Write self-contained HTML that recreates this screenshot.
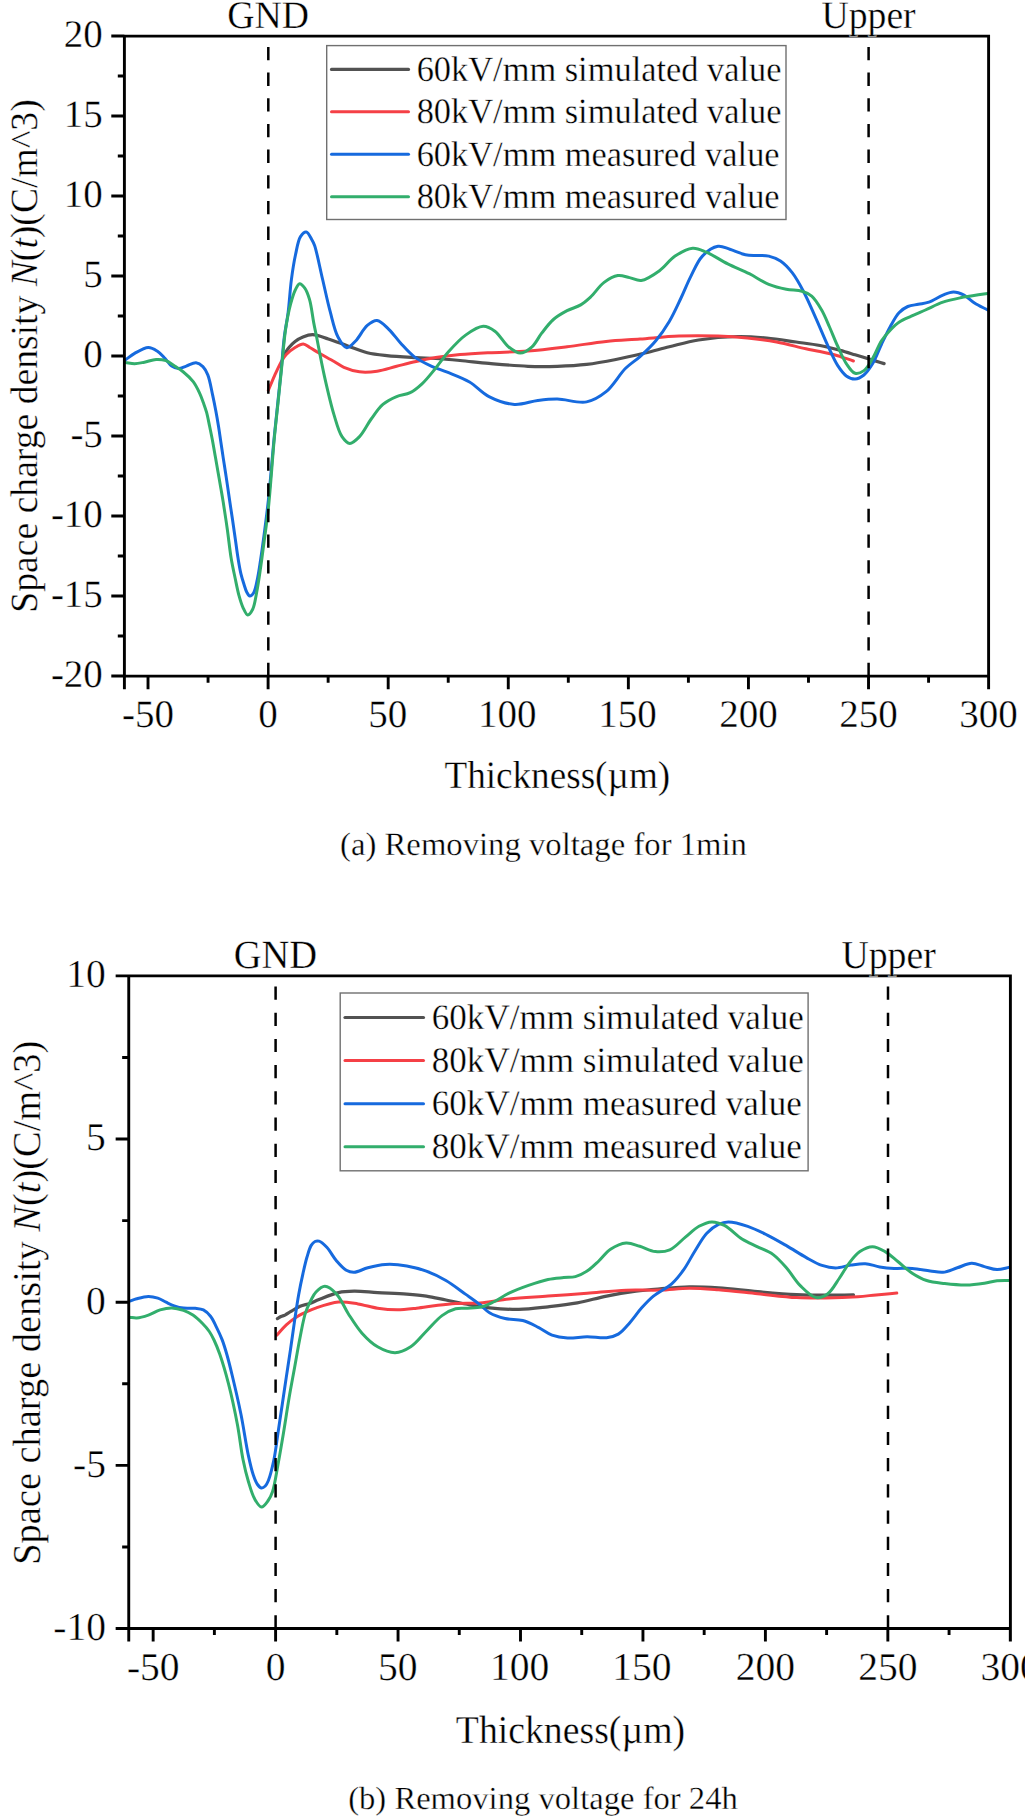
<!DOCTYPE html><html><head><meta charset="utf-8"><style>html,body{margin:0;padding:0;background:#fff;}svg{display:block;}text{font-family:"Liberation Serif",serif;fill:#000;text-rendering:geometricPrecision;stroke:#fff;stroke-width:0.35px;}</style></head><body>
<svg width="1025" height="1816" viewBox="0 0 1025 1816">
<rect width="1025" height="1816" fill="#fff"/>
<path d="M284.50 354.00 C286.00 351.83 287.28 349.55 289.00 347.50 C290.79 345.37 292.81 343.23 295.10 341.50 C297.46 339.71 300.14 338.12 303.00 337.00 C305.99 335.82 309.09 334.63 312.70 334.70 C317.29 334.78 322.84 337.28 328.30 339.00 C334.47 340.94 341.30 343.62 347.80 345.90 C354.30 348.18 360.72 351.08 367.30 352.70 C373.73 354.28 379.62 354.82 386.80 355.60 C395.56 356.55 407.32 357.10 416.10 357.60 C423.26 358.01 428.74 358.06 435.60 358.50 C443.28 358.99 451.52 359.73 460.00 360.50 C469.25 361.34 478.61 362.49 489.00 363.40 C501.03 364.45 515.92 365.85 528.00 366.30 C538.46 366.69 547.54 366.62 557.30 366.30 C567.07 365.98 576.86 365.53 586.60 364.40 C596.40 363.27 606.18 361.40 615.90 359.50 C625.64 357.60 635.75 355.21 645.00 353.00 C653.48 350.97 660.82 348.87 669.30 346.80 C678.58 344.54 687.99 341.69 698.50 340.00 C710.52 338.07 725.51 336.73 737.60 336.50 C748.04 336.30 757.08 337.09 766.80 338.00 C776.58 338.92 786.83 340.69 796.10 342.00 C804.48 343.18 812.42 344.02 820.00 345.50 C827.00 346.87 833.82 348.74 840.00 350.40 C845.40 351.85 849.88 353.25 855.10 354.80 C860.75 356.47 867.47 358.51 872.70 360.10 C876.91 361.38 880.30 362.43 884.10 363.60" fill="none" stroke="#525252" stroke-width="3.20" stroke-linejoin="round" stroke-linecap="round"/>
<path d="M268.30 390.30 C270.40 385.40 272.38 380.47 274.60 375.60 C276.84 370.70 279.44 364.82 281.70 361.00 C283.28 358.32 284.34 356.57 286.30 354.50 C288.63 352.04 292.09 349.29 295.10 347.50 C297.78 345.90 300.75 343.88 303.30 344.00 C305.62 344.11 307.49 346.19 309.80 347.50 C312.51 349.04 315.17 350.76 318.50 352.70 C322.93 355.27 329.51 358.85 334.10 361.50 C337.76 363.61 340.14 365.68 343.90 367.30 C348.39 369.24 354.09 371.13 359.50 371.80 C365.14 372.50 371.13 372.04 377.10 371.20 C383.48 370.30 390.10 367.92 396.60 366.30 C403.10 364.68 409.58 362.95 416.10 361.50 C422.58 360.05 428.71 358.71 435.60 357.60 C443.26 356.37 451.50 355.40 460.00 354.60 C469.24 353.73 478.62 353.25 489.00 352.70 C501.04 352.06 515.01 352.08 528.00 351.10 C541.04 350.12 554.09 348.42 567.10 346.80 C580.12 345.18 593.53 342.71 606.10 341.40 C617.77 340.18 628.31 339.85 640.00 339.00 C652.55 338.09 665.99 336.58 679.00 336.10 C691.99 335.62 705.93 335.71 718.00 336.10 C728.47 336.44 737.55 337.02 747.30 338.00 C757.08 338.98 766.87 340.21 776.60 342.00 C786.41 343.80 797.89 347.10 805.90 348.80 C811.44 349.97 815.05 350.44 820.00 351.50 C825.55 352.69 831.93 354.08 837.60 355.70 C843.04 357.26 848.13 359.23 853.40 361.00" fill="none" stroke="#f54046" stroke-width="3.00" stroke-linejoin="round" stroke-linecap="round"/>
<path d="M125.50 359.80 C128.53 357.67 131.14 355.33 134.60 353.40 C138.60 351.16 144.23 347.56 148.30 347.50 C151.55 347.45 154.40 349.29 157.10 351.00 C159.97 352.82 162.45 355.76 164.90 358.30 C167.31 360.80 169.19 364.37 171.70 366.10 C173.80 367.54 176.15 368.55 178.50 368.60 C181.00 368.65 183.56 367.00 186.30 366.10 C189.38 365.09 193.18 362.53 196.10 362.80 C198.63 363.03 201.01 364.76 202.90 366.60 C205.00 368.65 206.38 371.39 207.80 374.90 C209.90 380.10 211.30 389.04 212.70 395.40 C213.91 400.89 214.83 405.65 215.80 410.80 C216.77 415.95 217.66 421.14 218.50 426.30 C219.33 431.44 220.03 436.57 220.80 441.70 C221.57 446.83 222.32 451.97 223.10 457.10 C223.88 462.23 224.72 467.37 225.50 472.50 C226.28 477.63 227.05 482.79 227.80 487.90 C228.55 492.96 229.24 497.86 230.00 503.00 C230.80 508.38 231.65 513.77 232.50 519.50 C233.42 525.73 234.37 532.49 235.30 539.00 C236.23 545.52 237.09 552.45 238.10 558.60 C239.00 564.11 239.90 569.63 241.00 574.20 C241.88 577.87 242.89 580.89 243.90 584.00 C244.83 586.87 245.62 590.06 246.80 592.20 C247.68 593.80 248.67 595.89 249.80 596.00 C250.96 596.12 252.60 594.44 253.70 592.70 C255.60 589.70 256.49 583.14 257.60 578.00 C258.79 572.45 259.57 566.57 260.50 560.50 C261.51 553.94 262.34 547.97 263.40 540.00 C264.88 528.88 266.79 514.84 268.40 500.00 C270.42 481.45 272.43 455.21 274.20 437.30 C275.53 423.85 276.70 413.57 277.90 402.00 C279.06 390.82 280.23 379.92 281.30 369.00 C282.36 358.25 283.06 346.93 284.30 337.00 C285.38 328.30 286.98 321.36 288.10 312.60 C289.40 302.45 290.05 289.80 291.40 279.60 C292.58 270.72 293.84 262.39 295.50 254.80 C296.94 248.22 297.98 240.45 300.50 236.60 C302.07 234.20 304.41 231.77 306.20 232.00 C308.28 232.27 310.53 237.44 312.00 239.90 C313.16 241.84 313.66 242.72 314.60 245.40 C316.81 251.73 319.80 267.46 322.40 278.50 C325.00 289.56 327.41 301.43 330.20 311.70 C332.66 320.75 334.56 330.58 338.00 337.00 C340.49 341.66 343.68 347.44 346.80 347.80 C349.59 348.12 352.66 343.98 355.60 341.00 C359.49 337.05 363.14 328.87 367.30 325.40 C370.42 322.80 373.78 320.20 377.10 320.50 C380.93 320.85 385.08 325.81 388.80 329.30 C392.92 333.18 396.36 338.52 400.50 343.00 C404.78 347.63 408.97 352.74 414.10 356.60 C419.34 360.54 425.92 363.63 431.70 366.30 C436.97 368.73 441.68 369.90 447.30 372.20 C454.08 374.98 462.56 377.94 469.50 382.00 C476.46 386.07 481.71 392.90 489.00 396.60 C496.61 400.47 506.04 403.84 514.40 404.40 C522.30 404.93 530.34 401.39 537.80 400.50 C544.58 399.69 550.14 399.02 557.30 399.10 C566.08 399.20 578.04 403.58 586.60 401.90 C594.00 400.45 600.05 396.58 606.10 391.70 C613.22 385.95 619.30 374.53 625.60 368.30 C630.52 363.44 635.21 360.92 640.00 356.60 C645.22 351.89 650.80 346.72 655.60 341.00 C660.59 335.06 665.15 328.47 669.30 321.50 C673.66 314.18 677.35 305.68 681.00 298.00 C684.46 290.73 687.14 283.58 690.70 276.60 C694.27 269.61 697.45 261.27 702.40 256.10 C706.78 251.53 713.00 247.09 718.00 246.30 C722.07 245.66 725.62 248.05 729.80 249.30 C734.67 250.76 740.51 253.71 745.40 254.70 C749.52 255.54 753.20 255.27 757.10 255.50 C761.00 255.73 764.97 255.23 768.80 256.10 C772.78 257.01 776.83 258.54 780.50 261.00 C784.70 263.82 788.56 268.04 792.20 272.70 C796.46 278.16 800.18 285.16 803.90 292.20 C808.02 300.00 811.63 308.75 815.60 317.60 C819.91 327.21 824.74 339.13 828.80 347.80 C831.94 354.50 834.37 360.44 837.60 365.40 C840.29 369.53 843.05 373.61 846.30 375.90 C848.99 377.80 852.19 379.23 855.10 379.10 C858.06 378.97 861.20 377.16 863.90 375.00 C867.18 372.37 870.00 368.08 872.70 363.60 C875.98 358.17 878.53 350.56 881.50 344.30 C884.36 338.28 887.15 332.16 890.20 326.70 C893.00 321.69 895.68 316.20 899.00 312.70 C901.68 309.87 904.58 307.90 907.80 306.50 C911.01 305.10 914.79 305.02 918.30 304.30 C921.82 303.58 925.21 303.47 928.90 302.20 C933.34 300.67 938.48 296.85 942.90 295.10 C946.61 293.63 949.98 292.00 953.50 292.00 C957.01 292.00 960.65 293.41 964.00 295.10 C967.67 296.95 970.70 300.58 974.50 303.00 C978.56 305.58 983.30 307.67 987.70 310.00" fill="none" stroke="#166ade" stroke-width="3.00" stroke-linejoin="round" stroke-linecap="round"/>
<path d="M125.50 362.50 C128.53 362.90 131.51 363.73 134.60 363.70 C137.81 363.67 141.00 362.85 144.40 362.20 C148.14 361.48 152.36 359.70 156.10 359.50 C159.49 359.32 162.84 359.62 165.90 360.70 C169.02 361.80 171.71 364.23 174.60 366.10 C177.54 368.00 180.50 369.63 183.40 372.00 C186.71 374.71 190.48 378.13 193.20 381.70 C195.85 385.18 197.83 389.36 199.60 393.10 C201.20 396.49 202.31 399.81 203.50 403.10 C204.64 406.24 205.66 408.96 206.60 412.40 C207.73 416.54 208.61 421.54 209.60 426.30 C210.64 431.30 211.73 436.56 212.70 441.70 C213.67 446.83 214.50 451.97 215.40 457.10 C216.30 462.23 217.20 467.37 218.10 472.50 C219.00 477.63 219.93 482.88 220.80 487.90 C221.63 492.70 222.32 496.53 223.20 502.00 C224.42 509.61 225.99 520.04 227.30 529.30 C228.66 538.86 229.75 549.77 231.20 558.50 C232.40 565.68 233.77 571.67 235.10 578.00 C236.37 584.02 237.55 590.36 239.00 595.60 C240.20 599.93 241.28 603.89 242.90 607.30 C244.30 610.23 246.08 614.88 247.80 615.00 C249.36 615.11 251.37 611.91 252.70 609.30 C254.70 605.37 255.40 598.79 256.60 592.70 C258.04 585.37 259.26 576.74 260.50 568.30 C261.83 559.22 263.02 549.73 264.30 540.00 C265.66 529.66 267.04 520.77 268.40 508.00 C270.42 489.06 272.55 456.81 274.40 437.30 C275.71 423.50 276.90 413.57 278.10 402.00 C279.26 390.82 280.31 380.51 281.50 369.00 C282.80 356.35 283.85 340.87 285.60 329.20 C286.99 319.92 288.60 311.57 290.50 304.40 C292.00 298.75 293.61 293.22 295.50 289.50 C296.77 287.00 298.04 283.90 299.60 283.70 C301.09 283.51 303.14 285.92 304.60 287.90 C306.62 290.63 308.13 294.81 309.50 299.40 C311.39 305.70 312.40 315.79 313.70 322.60 C314.73 327.98 315.40 331.02 316.60 337.00 C318.57 346.84 321.49 363.11 324.40 376.10 C327.32 389.14 330.72 404.10 334.10 415.10 C336.65 423.41 338.63 431.70 342.00 436.60 C344.27 439.89 347.00 443.25 349.80 443.40 C352.80 443.56 356.40 439.78 359.50 436.60 C363.64 432.36 367.17 424.51 371.20 419.00 C374.99 413.82 378.44 408.21 382.90 404.40 C386.99 400.91 391.92 398.57 396.60 396.60 C401.03 394.73 406.00 394.78 410.20 392.70 C414.48 390.58 418.12 387.50 422.00 383.90 C426.60 379.63 431.20 373.64 435.60 368.30 C440.04 362.91 443.69 357.07 448.50 351.70 C453.62 345.98 459.50 339.43 465.60 335.10 C471.14 331.17 477.89 326.48 483.20 326.30 C487.46 326.16 491.15 328.50 494.90 331.20 C499.68 334.65 503.78 343.03 508.50 346.80 C512.28 349.82 516.29 353.09 520.20 353.10 C524.12 353.11 528.56 349.82 532.00 346.80 C535.85 343.42 538.21 337.67 541.70 333.20 C545.32 328.56 549.04 323.31 553.40 319.50 C557.55 315.88 562.44 313.17 567.10 310.70 C571.54 308.35 576.68 307.30 580.70 304.90 C584.40 302.69 587.09 300.26 590.50 297.10 C594.81 293.10 599.20 286.07 604.10 282.40 C608.38 279.19 613.31 276.26 617.80 275.60 C621.76 275.02 625.61 276.79 629.50 277.60 C633.42 278.42 636.98 281.03 641.20 280.50 C646.74 279.81 653.88 274.73 659.50 270.70 C665.20 266.62 669.40 259.88 675.10 256.10 C680.51 252.52 687.14 248.68 692.70 248.30 C697.46 247.97 701.37 250.18 706.30 252.20 C712.78 254.86 720.57 260.29 727.80 263.90 C734.90 267.45 742.37 270.23 749.30 273.70 C756.02 277.07 762.32 281.76 768.80 284.40 C774.65 286.79 780.58 288.16 786.30 289.30 C791.63 290.36 797.50 289.84 802.00 291.20 C805.73 292.33 808.74 293.56 811.70 296.10 C815.39 299.26 818.60 304.83 821.50 309.80 C824.58 315.08 826.87 321.10 829.50 327.00 C832.24 333.15 834.76 339.83 837.60 346.00 C840.37 352.02 843.02 358.78 846.30 363.60 C848.98 367.53 851.86 372.41 855.10 373.30 C857.82 374.05 861.25 372.51 863.90 370.60 C867.30 368.16 869.93 362.88 872.70 358.30 C875.85 353.09 878.28 345.76 881.50 340.80 C884.20 336.65 887.17 333.37 890.20 330.20 C893.02 327.25 895.65 324.57 899.00 322.30 C902.61 319.85 907.04 318.19 911.30 316.20 C915.82 314.09 920.45 312.19 925.40 310.00 C930.92 307.56 936.97 304.25 942.90 302.20 C948.67 300.21 953.97 299.14 960.50 297.80 C968.55 296.15 978.63 294.87 987.70 293.40" fill="none" stroke="#32ae6c" stroke-width="3.00" stroke-linejoin="round" stroke-linecap="round"/>
<path d="M268.30 676.10 V46.90" stroke="#000" stroke-width="2.50" stroke-dasharray="13.3 12.36" fill="none"/>
<path d="M868.60 676.10 V46.90" stroke="#000" stroke-width="2.50" stroke-dasharray="13.3 12.36" fill="none"/>
<path d="M111.30 36.10 H988.60 M111.30 676.10 H990.05 M124.40 34.65 V689.20 M988.60 34.65 V689.20 M111.30 36.00 H124.40 M111.30 116.00 H124.40 M111.30 196.00 H124.40 M111.30 276.00 H124.40 M111.30 356.00 H124.40 M111.30 436.00 H124.40 M111.30 516.00 H124.40 M111.30 596.00 H124.40 M111.30 676.00 H124.40 M117.80 76.00 H124.40 M117.80 156.00 H124.40 M117.80 236.00 H124.40 M117.80 316.00 H124.40 M117.80 396.00 H124.40 M117.80 476.00 H124.40 M117.80 556.00 H124.40 M117.80 636.00 H124.40 M148.02 676.10 V689.20 M268.10 676.10 V689.20 M388.19 676.10 V689.20 M508.27 676.10 V689.20 M628.36 676.10 V689.20 M748.44 676.10 V689.20 M868.52 676.10 V689.20 M988.61 676.10 V689.20 M208.06 676.10 V682.70 M328.14 676.10 V682.70 M448.23 676.10 V682.70 M568.31 676.10 V682.70 M688.40 676.10 V682.70 M808.48 676.10 V682.70 M928.57 676.10 V682.70 " stroke="#000" stroke-width="2.90" fill="none" stroke-linecap="butt"/>
<text x="63.76" y="47.30" font-size="39.00">20</text>
<text x="63.76" y="127.30" font-size="39.00">15</text>
<text x="63.76" y="207.30" font-size="39.00">10</text>
<text x="83.26" y="287.30" font-size="39.00">5</text>
<text x="83.26" y="367.30" font-size="39.00">0</text>
<text x="70.39" y="447.30" font-size="39.00">-5</text>
<text x="50.89" y="527.30" font-size="39.00">-10</text>
<text x="50.89" y="607.30" font-size="39.00">-15</text>
<text x="50.89" y="687.30" font-size="39.00">-20</text>
<text x="122.08" y="726.60" font-size="39.00">-50</text>
<text x="258.35" y="726.60" font-size="39.00">0</text>
<text x="368.30" y="726.60" font-size="39.00">50</text>
<text x="478.04" y="726.60" font-size="39.00">100</text>
<text x="598.13" y="726.60" font-size="39.00">150</text>
<text x="719.19" y="726.60" font-size="39.00">200</text>
<text x="839.27" y="726.60" font-size="39.00">250</text>
<text x="959.16" y="726.60" font-size="39.00">300</text>
<text x="227.24" y="28.10" font-size="39.00" textLength="81.77" lengthAdjust="spacingAndGlyphs">GND</text>
<text x="821.55" y="27.80" font-size="39.00" textLength="94.12" lengthAdjust="spacingAndGlyphs">Upper</text>
<rect x="326.70" y="45.60" width="459.30" height="173.90" fill="#fff" stroke="#707070" stroke-width="1.40"/>
<path d="M331.50 69.40 H408.50" stroke="#525252" stroke-width="3.20" stroke-linecap="round"/>
<text x="416.67" y="80.90" font-size="35.60" textLength="364.89" lengthAdjust="spacingAndGlyphs">60kV/mm simulated value</text>
<path d="M331.50 111.83 H408.50" stroke="#f54046" stroke-width="3.00" stroke-linecap="round"/>
<text x="416.67" y="123.33" font-size="35.60" textLength="364.89" lengthAdjust="spacingAndGlyphs">80kV/mm simulated value</text>
<path d="M331.50 154.26 H408.50" stroke="#166ade" stroke-width="3.00" stroke-linecap="round"/>
<text x="416.67" y="165.76" font-size="35.60" textLength="362.95" lengthAdjust="spacingAndGlyphs">60kV/mm measured value</text>
<path d="M331.50 196.69 H408.50" stroke="#32ae6c" stroke-width="3.00" stroke-linecap="round"/>
<text x="416.67" y="208.19" font-size="35.60" textLength="362.95" lengthAdjust="spacingAndGlyphs">80kV/mm measured value</text>
<text x="444.46" y="788.20" font-size="39.00" textLength="225.71" lengthAdjust="spacingAndGlyphs">Thickness(µm)</text>
<text x="340.09" y="854.50" font-size="32.60" textLength="406.88" lengthAdjust="spacingAndGlyphs">(a) Removing voltage for 1min</text>
<text transform="translate(36.60 610.00) rotate(-90)" x="-2.63" y="0" font-size="38.50" textLength="513.37" lengthAdjust="spacingAndGlyphs">Space charge density <tspan font-style="italic">N</tspan>(<tspan font-style="italic">t</tspan>)(C/m^3)</text>
<path d="M277.40 1318.60 C278.60 1317.90 279.74 1317.08 281.00 1316.50 C282.27 1315.91 283.60 1315.77 285.00 1315.10 C286.73 1314.27 288.40 1312.95 290.50 1311.70 C293.25 1310.07 296.81 1307.60 300.10 1306.20 C303.25 1304.87 306.64 1304.52 309.80 1303.40 C312.94 1302.29 315.34 1300.92 319.00 1299.50 C324.27 1297.45 332.28 1293.96 338.50 1292.60 C343.91 1291.42 348.37 1291.29 354.10 1291.20 C361.13 1291.09 369.34 1292.14 377.60 1292.60 C386.80 1293.11 398.05 1293.43 406.80 1294.10 C413.96 1294.65 419.81 1295.12 426.30 1296.10 C432.85 1297.09 439.03 1298.62 445.90 1300.00 C453.52 1301.53 462.37 1303.56 470.00 1304.90 C476.83 1306.10 482.32 1307.07 489.50 1307.80 C498.26 1308.69 509.05 1309.57 518.80 1309.40 C528.55 1309.23 538.27 1307.88 548.00 1306.80 C557.77 1305.72 567.58 1304.67 577.30 1302.90 C587.11 1301.11 596.80 1298.05 606.60 1296.10 C616.34 1294.16 626.59 1292.44 635.90 1291.20 C644.31 1290.08 651.57 1289.51 660.00 1288.80 C669.28 1288.02 679.54 1286.97 689.30 1286.80 C699.04 1286.63 708.07 1287.10 718.50 1287.80 C730.60 1288.61 744.57 1290.57 757.60 1291.70 C770.60 1292.83 784.52 1294.03 796.60 1294.60 C807.06 1295.10 816.28 1295.15 825.90 1295.20 C835.24 1295.24 844.30 1295.00 853.50 1294.90" fill="none" stroke="#525252" stroke-width="3.20" stroke-linejoin="round" stroke-linecap="round"/>
<path d="M277.00 1335.10 C280.10 1331.67 282.90 1327.90 286.30 1324.80 C289.70 1321.70 293.60 1318.84 297.40 1316.50 C300.98 1314.29 305.17 1312.46 308.40 1311.00 C310.86 1309.89 312.08 1309.28 315.00 1308.30 C320.39 1306.48 330.98 1302.62 338.50 1302.00 C345.25 1301.44 351.52 1302.88 358.00 1303.90 C364.56 1304.93 371.04 1307.22 377.60 1308.20 C384.08 1309.17 390.60 1309.80 397.10 1309.80 C403.60 1309.80 410.11 1308.92 416.60 1308.20 C423.11 1307.48 429.59 1306.28 436.10 1305.50 C442.59 1304.72 448.73 1303.94 455.60 1303.50 C463.27 1303.01 471.53 1303.57 480.00 1302.90 C489.27 1302.16 498.60 1300.08 509.00 1299.00 C521.02 1297.75 534.99 1297.07 548.00 1296.10 C561.02 1295.13 574.08 1294.18 587.10 1293.20 C600.11 1292.22 613.55 1290.70 626.10 1290.20 C637.79 1289.73 649.12 1290.47 660.00 1290.10 C670.13 1289.76 679.54 1288.25 689.30 1288.20 C699.04 1288.15 708.07 1288.99 718.50 1289.80 C730.59 1290.73 744.58 1292.40 757.60 1293.70 C770.61 1295.00 784.51 1296.91 796.60 1297.60 C807.05 1298.19 815.91 1298.13 825.90 1298.00 C836.36 1297.86 848.83 1297.34 858.00 1296.70 C864.90 1296.22 869.86 1295.48 876.10 1294.90 C882.77 1294.28 889.90 1293.70 896.80 1293.10" fill="none" stroke="#f54046" stroke-width="3.00" stroke-linejoin="round" stroke-linecap="round"/>
<path d="M129.70 1301.10 C132.03 1300.30 134.04 1299.41 136.70 1298.70 C140.08 1297.79 144.71 1296.43 148.40 1296.40 C151.70 1296.37 154.84 1297.11 157.80 1298.10 C160.70 1299.07 163.25 1300.91 166.00 1302.20 C168.72 1303.47 171.34 1304.83 174.20 1305.80 C177.16 1306.81 180.20 1307.67 183.50 1308.10 C187.15 1308.58 191.66 1307.93 195.20 1308.30 C198.19 1308.61 200.92 1308.66 203.40 1309.90 C206.05 1311.23 208.44 1313.70 210.50 1316.30 C212.81 1319.21 214.43 1323.07 216.30 1326.80 C218.34 1330.89 220.45 1335.33 222.20 1339.90 C224.04 1344.70 225.45 1349.59 227.00 1355.00 C228.77 1361.18 230.23 1367.22 232.10 1375.00 C234.70 1385.83 238.21 1400.76 240.90 1414.00 C243.66 1427.61 245.97 1444.38 248.40 1455.60 C250.07 1463.32 251.49 1469.74 253.30 1475.00 C254.61 1478.79 255.83 1482.23 257.50 1484.50 C258.69 1486.12 260.13 1487.84 261.50 1488.00 C262.73 1488.15 264.22 1487.05 265.30 1486.00 C266.61 1484.73 267.38 1483.01 268.40 1480.50 C270.28 1475.88 272.35 1467.24 273.90 1459.80 C275.67 1451.30 276.72 1441.39 278.10 1432.20 C279.48 1423.03 280.83 1413.88 282.20 1404.70 C283.57 1395.51 284.92 1386.29 286.30 1377.10 C287.68 1367.92 289.13 1358.89 290.50 1349.60 C291.90 1340.07 293.20 1330.02 294.60 1320.60 C295.93 1311.64 297.22 1302.59 298.70 1294.40 C300.01 1287.11 301.44 1280.30 302.90 1273.80 C304.22 1267.90 305.48 1262.05 307.00 1257.00 C308.29 1252.74 309.50 1248.12 311.20 1245.40 C312.33 1243.59 313.58 1242.18 315.00 1241.50 C316.22 1240.91 317.54 1240.67 319.00 1241.10 C321.29 1241.77 324.24 1244.60 326.80 1247.30 C330.13 1250.80 333.15 1257.01 336.60 1261.00 C339.68 1264.56 343.00 1268.46 346.30 1270.30 C348.86 1271.72 351.15 1272.40 354.10 1272.30 C358.04 1272.17 362.90 1269.06 367.80 1267.80 C373.26 1266.40 379.22 1264.87 385.40 1264.50 C392.16 1264.09 399.89 1264.76 406.80 1265.90 C413.51 1267.00 419.90 1268.74 426.30 1271.10 C432.94 1273.55 439.52 1276.78 445.90 1280.50 C452.57 1284.39 459.41 1289.85 465.40 1294.10 C470.58 1297.78 475.53 1301.16 479.80 1304.50 C483.41 1307.32 485.66 1310.45 489.50 1312.70 C493.90 1315.27 499.66 1317.20 505.10 1318.50 C510.71 1319.84 517.12 1319.00 522.70 1320.50 C528.17 1321.97 533.33 1324.81 538.30 1327.30 C543.08 1329.69 547.13 1333.32 552.00 1335.10 C556.89 1336.89 562.09 1337.68 567.60 1338.00 C573.72 1338.36 580.60 1336.75 587.10 1336.70 C593.60 1336.65 600.98 1338.40 606.60 1337.70 C611.05 1337.15 614.65 1336.30 618.30 1334.10 C622.54 1331.55 626.21 1326.63 630.00 1322.40 C634.03 1317.90 637.67 1312.30 641.70 1307.80 C645.49 1303.57 648.85 1299.83 653.40 1296.10 C658.64 1291.80 666.54 1288.48 671.70 1283.90 C676.37 1279.75 679.70 1275.34 683.40 1270.20 C687.55 1264.42 691.12 1256.98 695.10 1250.70 C698.93 1244.66 702.48 1237.77 706.80 1233.20 C710.41 1229.39 714.58 1226.28 718.50 1224.40 C721.76 1222.84 724.47 1221.95 728.30 1221.90 C733.69 1221.83 741.41 1224.16 747.80 1226.30 C754.41 1228.51 760.87 1231.87 767.30 1235.10 C773.87 1238.39 780.33 1242.17 786.80 1245.90 C793.33 1249.67 800.09 1254.20 806.30 1257.60 C811.75 1260.59 816.83 1263.68 822.00 1265.40 C826.59 1266.93 830.94 1267.90 835.60 1267.90 C840.53 1267.90 845.78 1265.80 850.80 1265.10 C855.68 1264.42 860.50 1263.41 865.30 1263.70 C870.13 1264.00 874.88 1266.12 879.70 1266.90 C884.48 1267.68 889.02 1268.14 894.10 1268.40 C899.78 1268.70 906.19 1267.98 912.20 1268.40 C918.22 1268.82 924.72 1270.22 930.20 1270.90 C934.80 1271.47 938.58 1272.72 942.90 1272.30 C947.60 1271.85 952.50 1269.30 957.30 1267.80 C962.10 1266.30 967.03 1263.41 971.70 1263.30 C976.05 1263.19 980.17 1265.55 984.40 1266.60 C988.60 1267.65 992.79 1269.49 997.00 1269.60 C1001.19 1269.71 1005.40 1268.07 1009.60 1267.30" fill="none" stroke="#166ade" stroke-width="3.00" stroke-linejoin="round" stroke-linecap="round"/>
<path d="M129.70 1317.20 C132.03 1317.47 134.09 1318.17 136.70 1318.00 C140.12 1317.78 144.56 1316.42 148.40 1315.10 C152.36 1313.74 156.12 1311.10 160.10 1309.90 C163.93 1308.74 167.91 1307.82 171.80 1307.90 C175.71 1307.98 179.89 1309.13 183.50 1310.40 C186.89 1311.59 189.89 1313.08 192.90 1315.10 C196.18 1317.30 199.49 1320.46 202.30 1323.30 C204.91 1325.94 207.32 1328.64 209.30 1331.50 C211.18 1334.22 212.45 1336.75 214.00 1340.00 C215.96 1344.10 217.81 1348.61 219.80 1354.30 C222.62 1362.39 225.85 1373.44 228.60 1384.20 C231.77 1396.58 234.94 1411.51 237.40 1424.50 C239.68 1436.54 240.92 1449.22 243.00 1459.50 C244.66 1467.72 246.33 1474.64 248.40 1481.50 C250.28 1487.72 252.08 1494.47 254.70 1499.00 C256.67 1502.40 259.18 1506.89 261.50 1507.00 C263.69 1507.11 266.37 1503.02 268.20 1500.50 C270.10 1497.88 271.27 1495.43 272.60 1491.50 C274.82 1484.91 276.32 1473.43 278.10 1463.90 C280.00 1453.71 281.80 1442.99 283.60 1432.20 C285.47 1420.97 287.21 1408.89 289.10 1397.80 C290.88 1387.37 292.77 1377.60 294.60 1367.50 C296.43 1357.40 298.17 1346.78 300.10 1337.20 C301.85 1328.50 303.38 1319.16 305.60 1312.40 C307.22 1307.46 309.20 1303.63 311.10 1300.00 C312.68 1296.98 313.80 1294.24 316.00 1292.00 C318.33 1289.62 321.74 1286.27 324.90 1286.30 C328.54 1286.33 333.07 1290.39 336.60 1294.10 C341.10 1298.83 344.12 1307.25 348.30 1313.70 C352.57 1320.29 356.91 1327.55 362.00 1333.20 C366.74 1338.47 371.90 1343.53 377.60 1346.80 C382.99 1349.89 389.45 1352.80 395.10 1352.70 C400.47 1352.60 405.82 1349.95 410.70 1346.80 C416.32 1343.17 421.09 1336.40 426.30 1331.20 C431.52 1326.00 436.64 1319.45 442.00 1315.60 C446.44 1312.41 451.11 1309.98 455.60 1308.80 C459.54 1307.76 463.20 1308.50 467.30 1308.20 C471.85 1307.86 477.22 1307.91 481.70 1306.80 C485.88 1305.76 489.29 1303.99 493.40 1302.00 C498.30 1299.63 503.41 1295.88 509.00 1293.20 C515.05 1290.30 521.95 1287.70 528.50 1285.40 C534.95 1283.14 541.80 1280.80 548.00 1279.50 C553.46 1278.35 558.85 1278.10 563.70 1277.60 C567.88 1277.17 571.59 1277.62 575.40 1276.60 C579.40 1275.53 583.36 1273.53 587.10 1271.10 C591.19 1268.44 594.96 1264.56 598.80 1261.00 C602.77 1257.31 605.97 1252.30 610.50 1249.30 C615.06 1246.28 621.01 1243.38 626.10 1243.00 C630.76 1242.66 635.12 1244.94 639.80 1246.30 C644.86 1247.77 650.24 1251.07 655.40 1251.60 C660.24 1252.09 665.18 1251.78 669.80 1249.80 C675.24 1247.47 680.37 1241.15 685.40 1237.10 C690.08 1233.34 694.32 1228.87 699.00 1226.30 C703.12 1224.04 707.45 1222.04 711.70 1221.90 C715.91 1221.76 720.04 1223.22 724.40 1225.40 C730.06 1228.23 736.13 1235.31 742.00 1239.00 C747.20 1242.26 752.40 1244.20 757.60 1246.80 C762.80 1249.40 768.43 1251.15 773.20 1254.60 C778.21 1258.23 782.40 1263.30 786.80 1268.30 C791.53 1273.67 795.42 1280.91 800.50 1285.90 C805.25 1290.57 811.06 1296.78 816.10 1297.60 C820.10 1298.25 824.26 1296.26 827.80 1293.70 C832.27 1290.47 835.88 1283.21 839.50 1278.00 C842.92 1273.08 845.51 1267.78 849.00 1263.30 C852.34 1259.02 855.78 1254.39 859.90 1251.60 C863.69 1249.03 868.30 1246.70 872.50 1246.70 C876.70 1246.70 881.05 1249.30 885.10 1251.60 C889.52 1254.11 893.45 1258.04 897.80 1261.50 C902.47 1265.21 907.22 1269.97 912.20 1273.20 C916.84 1276.21 921.38 1278.79 926.60 1280.50 C932.16 1282.32 938.38 1282.76 944.70 1283.50 C951.56 1284.31 959.42 1285.10 966.30 1285.00 C972.60 1284.91 978.93 1283.99 984.40 1283.20 C989.00 1282.54 992.78 1281.25 997.00 1280.80 C1001.18 1280.36 1005.40 1280.60 1009.60 1280.50" fill="none" stroke="#32ae6c" stroke-width="3.00" stroke-linejoin="round" stroke-linecap="round"/>
<path d="M275.60 1628.50 V986.60" stroke="#000" stroke-width="2.50" stroke-dasharray="13.2 13.0" fill="none"/>
<path d="M888.00 1628.50 V986.60" stroke="#000" stroke-width="2.50" stroke-dasharray="13.2 13.0" fill="none"/>
<path d="M115.65 975.90 H1010.40 M115.65 1628.50 H1011.85 M128.75 974.45 V1641.60 M1010.40 974.45 V1641.60 M115.65 975.90 H128.75 M115.65 1139.05 H128.75 M115.65 1302.20 H128.75 M115.65 1465.35 H128.75 M115.65 1628.50 H128.75 M122.15 1057.47 H128.75 M122.15 1220.62 H128.75 M122.15 1383.78 H128.75 M122.15 1546.93 H128.75 M153.15 1628.50 V1641.60 M275.60 1628.50 V1641.60 M398.05 1628.50 V1641.60 M520.50 1628.50 V1641.60 M642.95 1628.50 V1641.60 M765.40 1628.50 V1641.60 M887.85 1628.50 V1641.60 M1010.30 1628.50 V1641.60 M214.38 1628.50 V1635.10 M336.83 1628.50 V1635.10 M459.27 1628.50 V1635.10 M581.73 1628.50 V1635.10 M704.17 1628.50 V1635.10 M826.62 1628.50 V1635.10 M949.07 1628.50 V1635.10 " stroke="#000" stroke-width="2.90" fill="none" stroke-linecap="butt"/>
<text x="66.28" y="987.20" font-size="39.50">10</text>
<text x="86.03" y="1150.35" font-size="39.50">5</text>
<text x="86.03" y="1313.50" font-size="39.50">0</text>
<text x="73.00" y="1476.65" font-size="39.50">-5</text>
<text x="53.24" y="1639.80" font-size="39.50">-10</text>
<text x="126.88" y="1680.00" font-size="39.50">-50</text>
<text x="265.73" y="1680.00" font-size="39.50">0</text>
<text x="377.91" y="1680.00" font-size="39.50">50</text>
<text x="489.89" y="1680.00" font-size="39.50">100</text>
<text x="612.34" y="1680.00" font-size="39.50">150</text>
<text x="735.77" y="1680.00" font-size="39.50">200</text>
<text x="858.23" y="1680.00" font-size="39.50">250</text>
<text x="980.48" y="1680.00" font-size="39.50">300</text>
<text x="233.66" y="967.60" font-size="40.00" textLength="83.54" lengthAdjust="spacingAndGlyphs">GND</text>
<text x="841.45" y="967.50" font-size="39.70" textLength="94.32" lengthAdjust="spacingAndGlyphs">Upper</text>
<rect x="340.20" y="993.00" width="467.90" height="177.80" fill="#fff" stroke="#707070" stroke-width="1.40"/>
<path d="M345.00 1017.50 H423.50" stroke="#525252" stroke-width="3.20" stroke-linecap="round"/>
<text x="431.80" y="1028.80" font-size="35.80" textLength="371.94" lengthAdjust="spacingAndGlyphs">60kV/mm simulated value</text>
<path d="M345.00 1060.60 H423.50" stroke="#f54046" stroke-width="3.00" stroke-linecap="round"/>
<text x="431.80" y="1071.90" font-size="35.80" textLength="371.94" lengthAdjust="spacingAndGlyphs">80kV/mm simulated value</text>
<path d="M345.00 1103.70 H423.50" stroke="#166ade" stroke-width="3.00" stroke-linecap="round"/>
<text x="431.80" y="1115.00" font-size="35.80" textLength="369.95" lengthAdjust="spacingAndGlyphs">60kV/mm measured value</text>
<path d="M345.00 1146.80 H423.50" stroke="#32ae6c" stroke-width="3.00" stroke-linecap="round"/>
<text x="431.80" y="1158.10" font-size="35.80" textLength="369.95" lengthAdjust="spacingAndGlyphs">80kV/mm measured value</text>
<text x="455.85" y="1743.30" font-size="39.50" textLength="229.25" lengthAdjust="spacingAndGlyphs">Thickness(µm)</text>
<text x="348.20" y="1808.80" font-size="32.20" textLength="389.59" lengthAdjust="spacingAndGlyphs">(b) Removing voltage for 24h</text>
<text transform="translate(39.80 1562.10) rotate(-90)" x="-2.69" y="0" font-size="39.50" textLength="524.06" lengthAdjust="spacingAndGlyphs">Space charge density <tspan font-style="italic">N</tspan>(<tspan font-style="italic">t</tspan>)(C/m^3)</text>
</svg></body></html>
